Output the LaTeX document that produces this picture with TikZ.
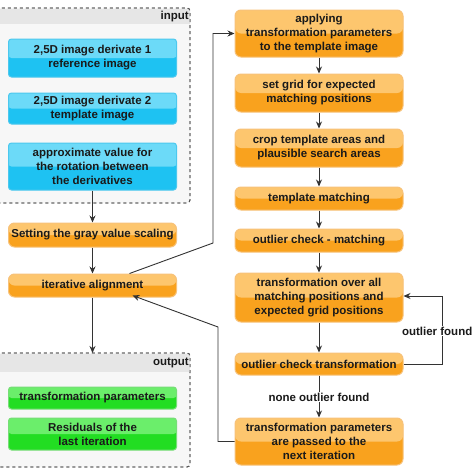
\documentclass[tikz,border=0pt]{standalone}
\usepackage{fontspec}
\setmainfont{Liberation Sans}
\usetikzlibrary{arrows.meta,calc}
\definecolor{bluetop}{HTML}{6CDAF8}
\definecolor{bluebot}{HTML}{1EC2F2}
\definecolor{blueedge}{HTML}{4CC8EE}
\definecolor{orgtop}{HTML}{FDC66E}
\definecolor{orgbot}{HTML}{F9A21E}
\definecolor{orgedge}{HTML}{F7C27A}
\definecolor{grntop}{HTML}{6BEE6B}
\definecolor{grnbot}{HTML}{22DD22}
\definecolor{grnedge}{HTML}{77DD77}
\definecolor{framebg}{HTML}{F7F7F7}
\definecolor{framehd}{HTML}{E6E6E6}
\definecolor{frameline}{HTML}{555555}
\definecolor{linecol}{HTML}{333333}
\definecolor{txt}{HTML}{1A1A1A}
\tikzset{
  basebox/.style={draw, line width=1pt, minimum width=168pt, inner sep=0pt, align=center,
     font=\bfseries\fontsize{11.5}{14}\selectfont, text=txt},
  bluebox/.style={basebox, draw=blueedge, fill=bluebot, rounded corners=3pt,
     path picture={\fill[bluetop] (path picture bounding box.north west) rectangle (path picture bounding box.east);}},
  orgbox/.style={basebox, draw=orgedge, fill=orgbot, rounded corners=6pt,
     path picture={\fill[orgtop] (path picture bounding box.north west) rectangle (path picture bounding box.east);}},
  grnbox/.style={basebox, draw=grnedge, fill=grnbot, rounded corners=3pt,
     path picture={\fill[grntop] (path picture bounding box.north west) rectangle (path picture bounding box.east);}},
  frame/.style={draw=frameline, dashed, line width=0.9pt, fill=framebg, rounded corners=3pt},
  conn/.style={draw=linecol, line width=0.9pt, -{Stealth[length=7pt,width=6pt]}},
  lbl/.style={font=\bfseries\fontsize{11.5}{14}\selectfont, text=txt, fill=white, inner sep=1pt},
  hdr/.style={anchor=east, font=\bfseries\fontsize{11.5}{14}\selectfont, text=txt, inner sep=0pt},
}
\begin{document}
\begin{tikzpicture}[x=1pt,y=-1pt]
\useasboundingbox (0,0) rectangle (474,474);
\fill[white] (0,0) rectangle (474,474);
\clip (0,0) rectangle (474,474);
% frames
\draw[frame] (-10,8) rectangle (190,203);
\fill[framehd] (-9,8.5) rectangle (189.5,24);
\draw[frame, fill=none] (-10,8) rectangle (190,203);
\node[hdr] (inlbl) at (189,16.5) {input};
\draw[frame] (-10,353) rectangle (190,467);
\fill[framehd] (-9,353.5) rectangle (189.5,372);
\draw[frame, fill=none] (-10,353) rectangle (190,467);
\coordinate (outtop) at (92.5,353);
\node[hdr] (outlbl) at (189,362.5) {output};
% left column
\node[bluebox, minimum height=38pt] (in1) at (92.5,58) {2,5D image derivate 1\\reference image};
\node[bluebox, minimum height=31pt] (in2) at (92.5,108.5) {2,5D image derivate 2\\template image};
\node[bluebox, minimum height=47pt] (in3) at (92.5,166.5) {approximate value for\\the rotation between\\the derivatives};
\node[orgbox, minimum height=24pt] (scal) at (92.5,235) {Setting the gray value scaling};
\node[orgbox, minimum height=23pt] (iter) at (92.5,285.5) {iterative alignment};
\node[grnbox, minimum height=22pt] (out1) at (92.5,398) {transformation parameters};
\node[grnbox, minimum height=32pt] (out2) at (92.5,434) {Residuals of the\\last iteration};
% right column
\node[orgbox, minimum height=47pt] (A) at (319,33.5) {applying\\transformation parameters\\to the template image};
\node[orgbox, minimum height=38pt] (B) at (319,93) {set grid for expected\\matching positions};
\node[orgbox, minimum height=38pt] (C) at (319,148) {crop template areas and\\plausible search areas};
\node[orgbox, minimum height=23pt] (D) at (319,198.5) {template matching};
\node[orgbox, minimum height=23pt] (E) at (319,240.5) {outlier check - matching};
\node[orgbox, minimum height=49pt] (F) at (319,297.5) {transformation over all\\matching positions and\\expected grid positions};
\node[orgbox, minimum height=22pt] (G) at (319,364) {outlier check transformation};
\node[orgbox, minimum height=47pt] (H) at (319,441.5) {transformation parameters\\are passed to the\\next iteration};
% connectors left
\draw[conn] (in3.south) -- (scal.north);
\draw[conn] (scal.south) -- (iter.north);
\draw[conn] (iter.south) -- (outtop);
\coordinate (c1) at (213,243);
\draw[conn] ([xshift=37pt]iter.north) -- (c1) -- (c1 |- A.west) -- (A.west);
\coordinate (c2) at (218,441.5);
\coordinate (c3) at (218,327);
\draw[conn] (H.west) -- (c2) -- (c3) -- ([xshift=40pt,yshift=2pt]iter.south);
% connectors right
\draw[conn] (A) -- (B);
\draw[conn] (B) -- (C);
\draw[conn] (C) -- (D);
\draw[conn] (D) -- (E);
\draw[conn] (E) -- (F);
\draw[conn] (F) -- (G);
\draw[conn] (G) -- (H);
\node[lbl] (nof) at (319,397) {none outlier found};
\coordinate (r1) at (442,364);
\coordinate (r2) at (442,296);
\draw[conn] (G.east) -- (r1) -- (r2) -- (r2 -| F.east);
\node[lbl, anchor=east] (of) at (473.5,331) {outlier found};
\end{tikzpicture}
\end{document}
